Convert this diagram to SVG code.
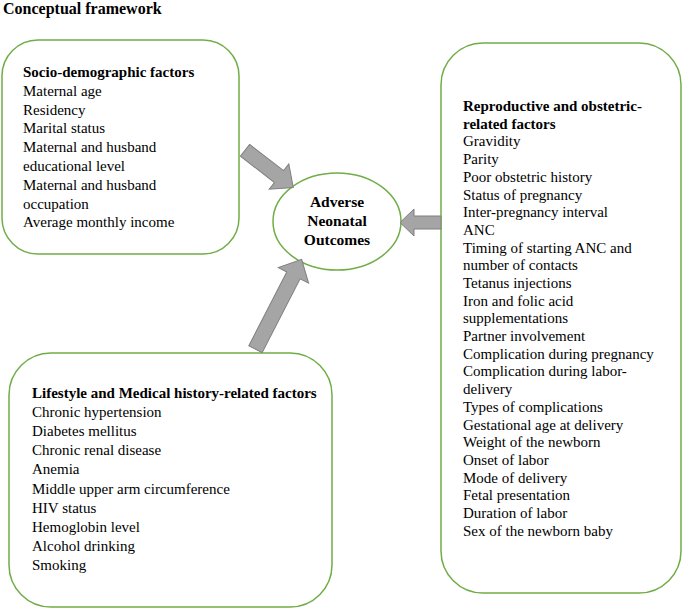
<svg xmlns="http://www.w3.org/2000/svg" width="685" height="609" viewBox="0 0 685 609">
<style>
.box{fill:#fff;stroke:#70ad47;stroke-width:1.5}
.arr{fill:#a5a5a5;stroke:#7f7f7f;stroke-width:1}
text{font-family:"Liberation Serif","Times New Roman",serif;font-size:15px;fill:#000}
.b{font-weight:bold}
.c{text-anchor:middle;font-size:15.5px}
.t{font-size:16px}
</style>
<rect width="685" height="609" fill="#fff"/>
<text class="b t" x="3" y="14">Conceptual framework</text>

<g id="socio">
<rect class="box" x="2" y="40" width="237" height="214" rx="36"/>
<text x="23" y="77"><tspan class="b">Socio-demographic factors</tspan><tspan x="23" dy="18.8">Maternal age</tspan><tspan x="23" dy="18.8">Residency</tspan><tspan x="23" dy="18.8">Marital status</tspan><tspan x="23" dy="18.8">Maternal and husband</tspan><tspan x="23" dy="18.8">educational level</tspan><tspan x="23" dy="18.8">Maternal and husband</tspan><tspan x="23" dy="18.8">occupation</tspan><tspan x="23" dy="18.8">Average monthly income</tspan></text>
</g>

<g id="repro">
<rect class="box" x="441" y="43" width="240" height="550" rx="42"/>
<text x="463" y="111"><tspan class="b">Reproductive and obstetric-</tspan><tspan class="b" x="463" dy="17.7">related factors</tspan><tspan x="463" dy="17.7">Gravidity</tspan><tspan x="463" dy="17.7">Parity</tspan><tspan x="463" dy="17.7">Poor obstetric history</tspan><tspan x="463" dy="17.7">Status of pregnancy</tspan><tspan x="463" dy="17.7">Inter-pregnancy interval</tspan><tspan x="463" dy="17.7">ANC</tspan><tspan x="463" dy="17.7">Timing of starting ANC and</tspan><tspan x="463" dy="17.7">number of contacts</tspan><tspan x="463" dy="17.7">Tetanus injections</tspan><tspan x="463" dy="17.7">Iron and folic acid</tspan><tspan x="463" dy="17.7">supplementations</tspan><tspan x="463" dy="17.7">Partner involvement</tspan><tspan x="463" dy="17.7">Complication during pregnancy</tspan><tspan x="463" dy="17.7">Complication during labor-</tspan><tspan x="463" dy="17.7">delivery</tspan><tspan x="463" dy="17.7">Types of complications</tspan><tspan x="463" dy="17.7">Gestational age at delivery</tspan><tspan x="463" dy="17.7">Weight of the newborn</tspan><tspan x="463" dy="17.7">Onset of labor</tspan><tspan x="463" dy="17.7">Mode of delivery</tspan><tspan x="463" dy="17.7">Fetal presentation</tspan><tspan x="463" dy="17.7">Duration of labor</tspan><tspan x="463" dy="17.7">Sex of the newborn baby</tspan></text>
</g>

<g id="lifestyle">
<rect class="box" x="9" y="353" width="323" height="254" rx="42"/>
<text x="32" y="398"><tspan class="b">Lifestyle and Medical history-related factors</tspan><tspan x="32" dy="19.1">Chronic hypertension</tspan><tspan x="32" dy="19.1">Diabetes mellitus</tspan><tspan x="32" dy="19.1">Chronic renal disease</tspan><tspan x="32" dy="19.1">Anemia</tspan><tspan x="32" dy="19.1">Middle upper arm circumference</tspan><tspan x="32" dy="19.1">HIV status</tspan><tspan x="32" dy="19.1">Hemoglobin level</tspan><tspan x="32" dy="19.1">Alcohol drinking</tspan><tspan x="32" dy="19.1">Smoking</tspan></text>
</g>

<g id="outcome">
<ellipse class="box" cx="337" cy="221.5" rx="64" ry="48.5"/>
<text class="b c" x="337" y="207">Adverse</text>
<text class="b c" x="337" y="226">Neonatal</text>
<text class="b c" x="337" y="245">Outcomes</text>
</g>

<g id="connectors">
<polygon class="arr" transform="translate(245,150.3) rotate(37.7)" points="0,-7.5 43,-7.5 43,-16 61,0 43,16 43,7.5 0,7.5"/>
<polygon class="arr" transform="translate(441,222.5) rotate(180)" points="0,-6.5 27,-6.5 27,-13.5 41,0 27,13.5 27,6.5 0,6.5"/>
<polygon class="arr" transform="translate(255.5,349.2) rotate(-62.8)" points="0,-7.5 83,-7.5 83,-17 101,0 83,17 83,7.5 0,7.5"/>
</g>
</svg>
